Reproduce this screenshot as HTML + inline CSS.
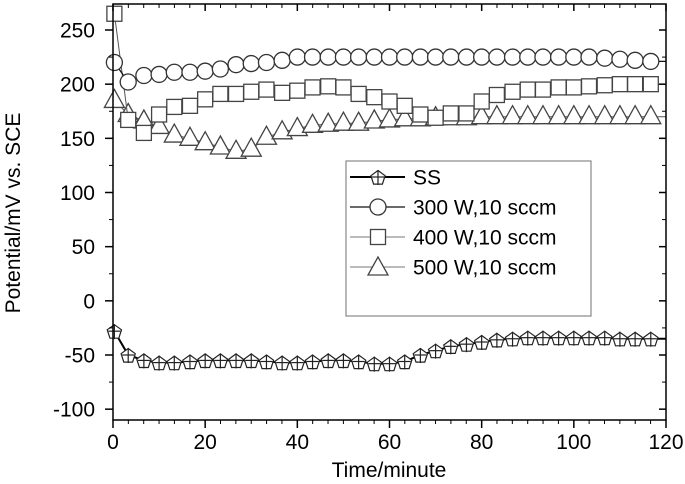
<!DOCTYPE html>
<html><head><meta charset="utf-8"><style>
html,body{margin:0;padding:0;background:#fff}
svg{display:block;font-family:"Liberation Sans",Arial,sans-serif}
</style></head><body>
<svg id="chart" width="685" height="484" viewBox="0 0 685 484" xmlns="http://www.w3.org/2000/svg">
<g id="marks"></g>
<g id="axes"></g>
<g id="legend"></g>
<text x="389" y="477" font-size="21" text-anchor="middle">Time/minute</text>
<text transform="translate(20,213) rotate(-90)" font-size="21" text-anchor="middle">Potential/mV vs. SCE</text>
</svg>
<script>
const times = [0.3,3.3,6.7,10,13.3,16.7,20,23.3,26.7,30,33.3,36.7,40,43.3,46.7,50,53.3,56.7,60,63.3,66.7,70,73.3,76.7,80,83.3,86.7,90,93.3,96.7,100,103.3,106.7,110,113.3,116.7];
const ssValues = [-28,-50,-55,-57,-57,-56,-55,-55,-55,-55,-56,-57,-57,-56,-55,-55,-56,-58,-58,-56,-50,-46,-42,-40,-38,-36,-35,-34,-34,-34,-34,-34,-34,-35,-35,-35];
const w300Values = [220,202,208,209,211,211,212,214,218,219,220,222,225,225,225,225,225,225,225,225,225,225,225,225,225,225,225,225,225,225,225,225,224,223,222,221];
const w400Values = [265,167,155,172,179,180,186,191,191,193,195,192,194,197,198,197,191,188,184,180,172,169,173,173,184,190,193,195,195,197,197,198,199,200,200,200];
const w500Values = [185,172,166,161,153,150,146,142,138,140,151,156,159,162,163,164,164,166,167,168,168,169,169,169,170,170,170,170,170,170,170,170,170,170,170,170];
const xTicks = [0,20,40,60,80,100,120];
const yTicks = [-100,-50,0,50,100,150,200,250];

const X0=113, X1=666, Y_TOP=4, Y_BOT=420;
const XMIN=0, XMAX=120, YMIN=-110, YMAX=274;
const sx = v => X0 + (v-XMIN)/(XMAX-XMIN)*(X1-X0);
const sy = v => Y_BOT - (v-YMIN)/(YMAX-YMIN)*(Y_BOT-Y_TOP);
const NS="http://www.w3.org/2000/svg";
function mk(tag, attrs, parent){const e=document.createElementNS(NS,tag);for(const k in attrs)e.setAttribute(k,attrs[k]);parent.appendChild(e);return e;}
const marks=document.getElementById('marks'), axes=document.getElementById('axes'), legend=document.getElementById('legend');

function pentagon(cx,cy,r){let p=[];for(let i=0;i<5;i++){const a=-Math.PI/2+i*2*Math.PI/5;p.push((cx+r*Math.cos(a)).toFixed(1)+','+(cy+r*Math.sin(a)).toFixed(1));}return p.join(' ');}
function drawMarker(type,cx,cy,parent,name){
  let e;
  if(type==='pent'){
    e=mk('g',{},parent);
    mk('polygon',{points:pentagon(cx,cy+1,7.5),fill:'#fff',stroke:'#222','stroke-width':1.2},e);
    mk('line',{x1:cx-6,y1:cy,x2:cx+6,y2:cy,stroke:'#222','stroke-width':1.2},e);
    mk('line',{x1:cx,y1:cy-7,x2:cx,y2:cy+8,stroke:'#222','stroke-width':1.2},e);
  } else if(type==='circ'){
    e=mk('circle',{cx:cx,cy:cy,r:8,fill:'#fff',stroke:'#333','stroke-width':1.3},parent);
  } else if(type==='sq'){
    e=mk('rect',{x:cx-7.5,y:cy-7.5,width:15,height:15,fill:'#fff',stroke:'#444','stroke-width':1.3},parent);
  } else {
    e=mk('polygon',{points:`${cx},${cy-11} ${cx+10},${cy+7} ${cx-10},${cy+7}`,fill:'#fff',stroke:'#444','stroke-width':1.3},parent);
  }
  
  
}
const series=[
  {name:'w500',vals:w500Values,type:'tri',stroke:'#555',sw:1},
  {name:'w400',vals:w400Values,type:'sq',stroke:'#555',sw:1},
  {name:'w300',vals:w300Values,type:'circ',stroke:'#111',sw:1.3},
  {name:'ss',vals:ssValues,type:'pent',stroke:'#000',sw:2}
];
series.forEach(s=>{
  const g=mk('g',{},marks);
  
  
  let d=times.map((t,i)=>(i?'L':'M')+sx(t).toFixed(1)+','+sy(s.vals[i]).toFixed(1)).join(' ');
  d+=' L'+sx(120).toFixed(1)+','+sy(s.vals[s.vals.length-1]).toFixed(1);
  const ln=mk('path',{d:d,fill:'none',stroke:s.stroke,'stroke-width':s.sw},g);
  
  
  times.forEach((t,i)=>drawMarker(s.type,sx(t),sy(s.vals[i]),g,s.name+'-point'));
});

const fr=mk('rect',{x:X0,y:Y_TOP,width:X1-X0,height:Y_BOT-Y_TOP,fill:'none',stroke:'#000','stroke-width':1.5},axes);


xTicks.forEach(v=>{
  const x=sx(v);
  mk('line',{x1:x,y1:Y_BOT,x2:x,y2:Y_BOT+8,stroke:'#000','stroke-width':1.5},axes);
  mk('line',{x1:x,y1:Y_TOP,x2:x,y2:Y_TOP+7,stroke:'#000','stroke-width':1.5},axes);
  const t=mk('text',{x:x,y:Y_BOT+29,'font-size':21,'text-anchor':'middle'},axes);
  t.textContent=v;
  
  
});
for(let v=3.33;v<120;v+=3.333){ if(Math.abs(v/20-Math.round(v/20))<0.01) continue;
  const x=sx(v); mk('line',{x1:x,y1:Y_BOT,x2:x,y2:Y_BOT+4,stroke:'#000','stroke-width':1},axes);
  mk('line',{x1:x,y1:Y_TOP,x2:x,y2:Y_TOP+4,stroke:'#000','stroke-width':1},axes);}
yTicks.forEach(v=>{
  const y=sy(v);
  mk('line',{x1:X0-8,y1:y,x2:X0,y2:y,stroke:'#000','stroke-width':1.5},axes);
  mk('line',{x1:X1-7,y1:y,x2:X1,y2:y,stroke:'#000','stroke-width':1.5},axes);
  const t=mk('text',{x:X0-18,y:y+7.5,'font-size':21,'text-anchor':'end'},axes);
  t.textContent=v;
  
  
  const m=sy(v+25);
  if(v+25<YMAX){mk('line',{x1:X0-4,y1:m,x2:X0,y2:m,stroke:'#000','stroke-width':1},axes);
  mk('line',{x1:X1-4,y1:m,x2:X1,y2:m,stroke:'#000','stroke-width':1},axes);}
});

mk('rect',{x:346,y:161,width:245,height:155,fill:'#fff',stroke:'#888','stroke-width':1.2},legend);
const legItems=[['pent','SS','#000',2],['circ','300 W,10 sccm','#111',1.3],['sq','400 W,10 sccm','#777',1],['tri','500 W,10 sccm','#777',1]];
legItems.forEach((it,i)=>{
  const y=177+i*30;
  const g=mk('g',{},legend);
  
  
  mk('line',{x1:350,y1:y,x2:405,y2:y,stroke:it[2],'stroke-width':it[3]},g);
  drawMarker(it[0],378,y+(it[0]==='tri'?1:0),g,'legend-marker');
  const t=mk('text',{x:413,y:y+7.5,'font-size':21},g);
  t.textContent=it[1];
});
</script>
</body></html>
